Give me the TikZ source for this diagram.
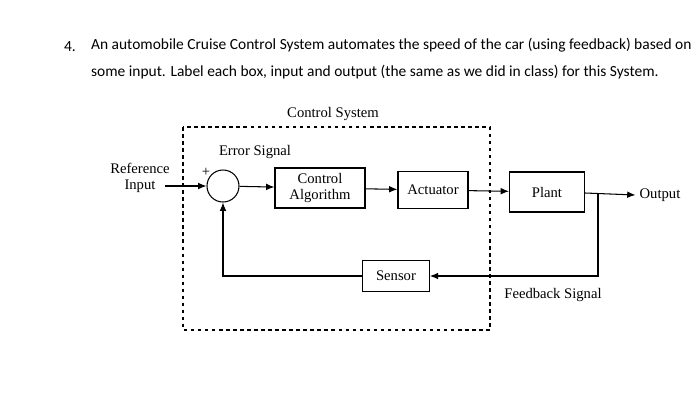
\documentclass[tikz,border=0pt]{standalone}
\usepackage{fontspec}
\setmainfont{Liberation Serif}
\newfontfamily\headfont{Carlito}
\usetikzlibrary{positioning,calc}

\tikzset{
  txt/.style={font=\fontsize{12.5}{13}\selectfont},
  blk/.style={draw, semithick, line width=0.9pt, fill=white, align=center, txt},
  sig/.style={-{Latex[length=2.5mm,width=2mm]}, line width=0.9pt},
}
\usetikzlibrary{arrows.meta}

\begin{document}
\begin{tikzpicture}[x=0.03cm,y=-0.03cm]
\useasboundingbox (0,0) rectangle (700,410);

% heading
\node[anchor=west, font=\headfont\fontsize{13.2}{23}\selectfont] (num) at (60,47) {4.};
\node[anchor=west, font=\headfont\fontsize{13.2}{23}\selectfont, align=left] (task) at (87,58.5)
  {An automobile Cruise Control System automates the speed of the car (using feedback) based on\\
   some input. Label each box, input and output (the same as we did in class) for this System.};

% system boundary
\draw[line width=0.9pt, dashed] (183,127) rectangle (490,330);
\node[fill=white, txt] (title) at (333,114) {Control System};

\node[circle, draw, line width=0.9pt, minimum size=0.96cm, inner sep=0pt] (sum) at (223,186) {};
\node[align=center, txt] (ref) at (140,178) {Reference\\Input};
\node[txt] (plus) at (206,172) {+};
\node[txt] (err) at (255,152) {Error Signal};

\node[blk, minimum width=2.7cm, minimum height=1.2cm] (ctrl) at (320,188) {Control\\Algorithm};
\node[blk, minimum width=2.1cm, minimum height=1.1cm] (act) at (433,190) {Actuator};
\node[blk, minimum width=2.25cm, minimum height=1.2cm] (plant) at (547,192) {Plant};
\node[blk, minimum width=2.0cm, minimum height=0.95cm] (sens) at (396,276) {Sensor};
\node[txt] (out) at (660,195) {Output};
\node[txt] (fb) at (553,295) {Feedback Signal};

\coordinate (tap) at (598,193);
\coordinate (inl) at (165,186);

\draw[sig] (inl) -- (sum);
\draw[sig] (sum) -- (ctrl);
\draw[sig] (ctrl) -- (act);
\draw[sig] (act) -- (plant);
\draw[sig] (plant.east |- tap) -- (out.west);
\draw[sig] (tap) |- (sens);
\draw[sig] (sens.west) -| (sum.south);
\end{tikzpicture}
\end{document}
